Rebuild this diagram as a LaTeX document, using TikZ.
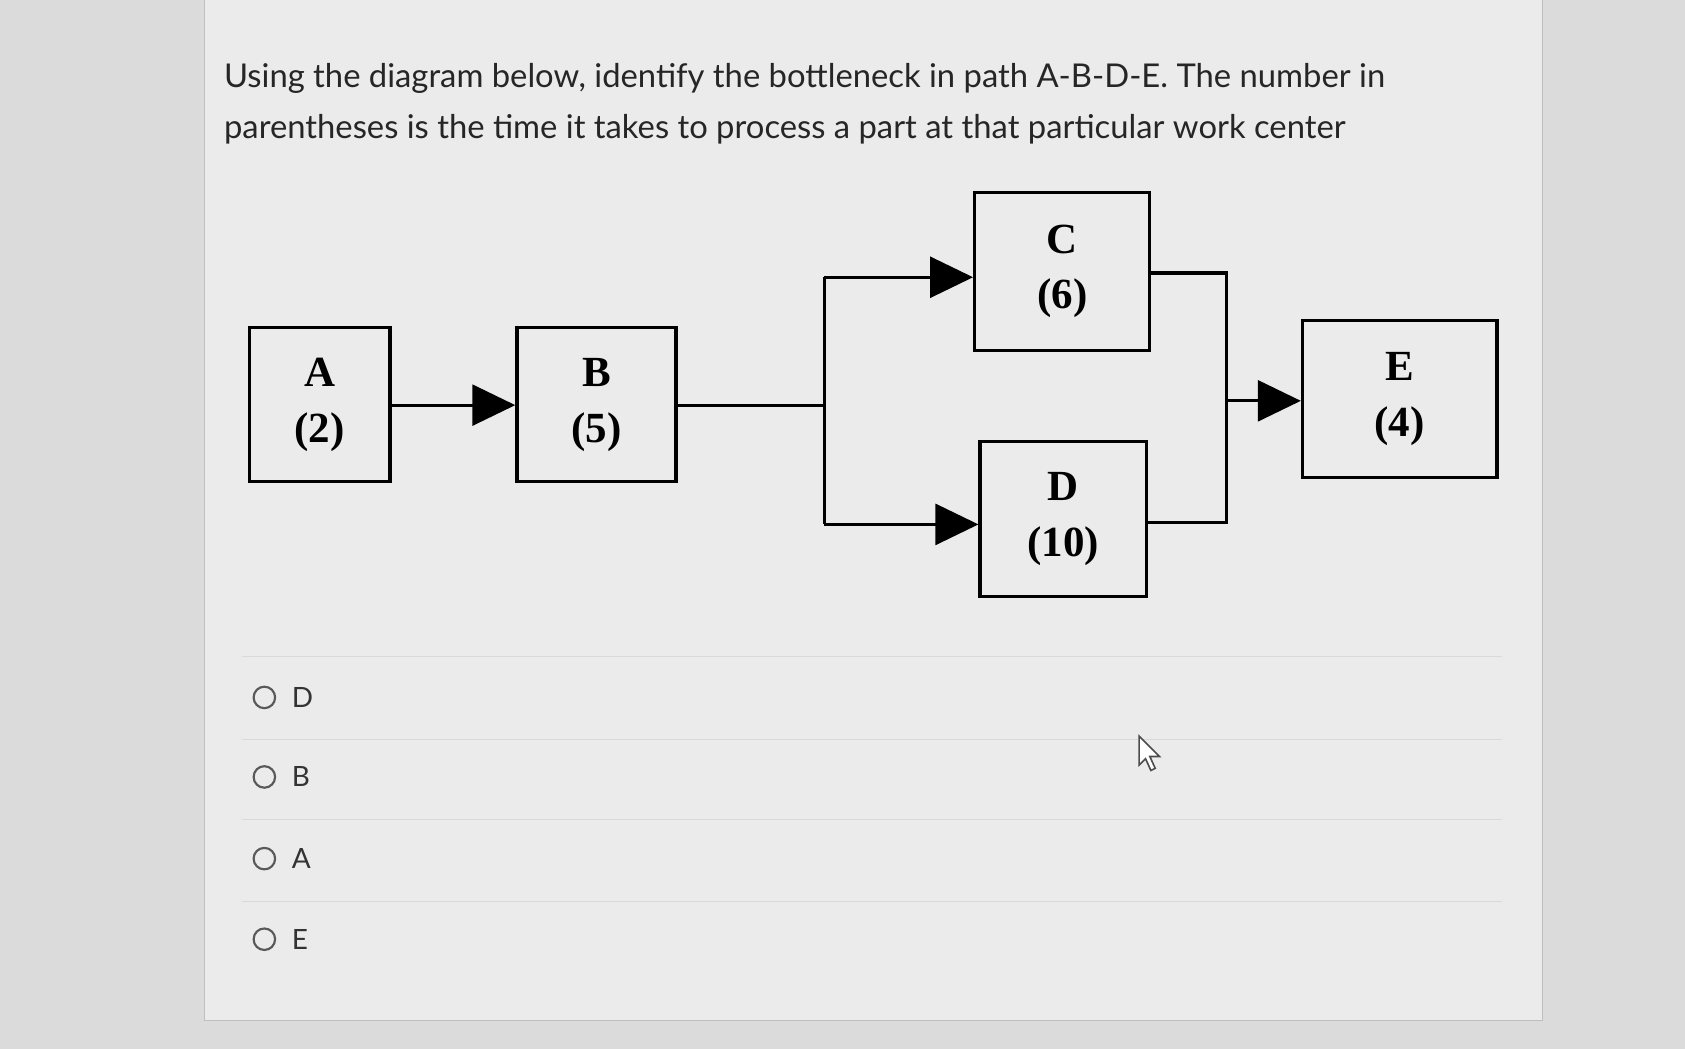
\documentclass[tikz,border=0pt]{standalone}
\usepackage{fontspec}
\setmainfont{Liberation Serif}
\newfontfamily\lato{Lato}
\usetikzlibrary{arrows.meta}
\begin{document}
\begin{tikzpicture}[x=1pt,y=-1pt,
  box/.style={draw,line width=3pt,inner sep=0pt,align=center,font=\fontsize{40}{58}\selectfont\bfseries},
  conn/.style={line width=3pt},
  arr/.style={line width=3pt,-{Triangle[length=40pt,width=38pt]}},
  sep/.style={draw=black!15,line width=1pt},
  opt/.style={anchor=west,font=\lato\fontsize{26}{30}\selectfont,text=black!80}]
\useasboundingbox (0,0) rectangle (1568,976);
\fill[black!14] (0,0) rectangle (1568,976);
\fill[black!8,draw=black!25,line width=1pt] (190,-5) rectangle (1435,950);
\node[anchor=north west,align=left,font=\lato\fontsize{30.5}{48}\selectfont,text=black!85] (t) at (205,55)
 {Using the diagram below, identify the bottleneck in path A-B-D-E. The number in\\parentheses is the time it takes to process a part at that particular work center};
\node[box,minimum width=131pt,minimum height=143pt] (A) at (297.5,376.5) {\raisebox{-6pt}{A}\\(2)};
\node[box,minimum width=148pt,minimum height=143pt] (B) at (555,376.5) {\raisebox{-6pt}{B}\\(5)};
\node[box,minimum width=163pt,minimum height=147pt] (C) at (988.5,252.5) {\raisebox{-6pt}{C}\\(6)};
\node[box,minimum width=155pt,minimum height=144pt] (D) at (989.5,483) {\raisebox{-6pt}{D}\\(10)};
\node[box,minimum width=181pt,minimum height=146pt] (E) at (1302.5,371) {\raisebox{-6pt}{E}\\(4)};
\coordinate (s) at (767,377);
\coordinate (sc) at (767,258);
\coordinate (sd) at (767,488);
\coordinate (j) at (1141,373);
\coordinate (jc) at (1141,254);
\coordinate (jd) at (1141,486);
\draw[arr] (A.east|-s) -- (B.west|-s);
\draw[conn] (B.east|-s) -- (s);
\draw[conn] (sc) -- (sd);
\draw[arr] (sc) -- (C.west|-sc);
\draw[arr] (sd) -- (D.west|-sd);
\draw[conn] (C.east|-jc) -- (jc) -- (jd) -- (D.east|-jd);
\draw[arr] (j) -- (E.west|-j);
\foreach \y in {611,688,763,839} \draw[sep] (225,\y) -- (1398,\y);
\foreach \y/\l/\n in {649/D/o1,723/B/o2,799/A/o3,874/E/o4}{
  \draw[black!65,line width=2pt] (246,\y) circle (10);
  \node[opt] (\n) at (268,\y) {\l};}
\draw[fill=white,draw=black!70,line width=1.5pt] (1060,685) -- (1060,712) -- (1066,706) -- (1071,717) -- (1075,715) -- (1070,704) -- (1079,704) -- cycle;
\end{tikzpicture}
\end{document}
